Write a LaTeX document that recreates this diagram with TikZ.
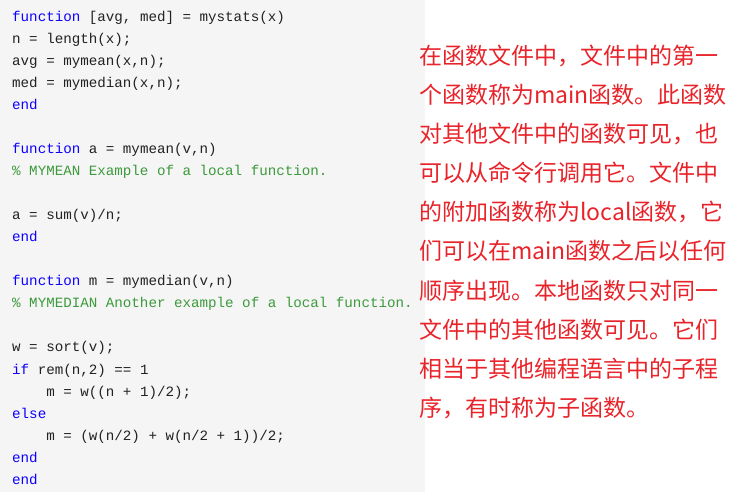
\documentclass[tikz,border=0pt]{standalone}
\usepackage{fontspec}
\setmonofont{Liberation Mono}
\newfontfamily\cjk{Noto Sans CJK SC}
\definecolor{kw}{HTML}{0E00FF}
\definecolor{cm}{HTML}{3C9A3C}
\definecolor{tx}{HTML}{222222}
\definecolor{rd}{HTML}{E8232A}
\definecolor{bg}{HTML}{F5F5F5}
\newcommand{\kw}[1]{\textcolor{kw}{#1}}
\newcommand{\cm}[1]{\textcolor{cm}{#1}}
\begin{document}
\begin{tikzpicture}[x=1pt,y=-1pt,
  code/.style={anchor=base west,inner sep=0pt,text=tx,font=\ttfamily\fontsize{14.2}{16}\selectfont},
  note/.style={anchor=base west,inner sep=0pt,text=rd,font=\cjk\fontsize{23}{28}\selectfont}]
\useasboundingbox (0,0) rectangle (740,492);
\fill[bg] (0,0) rectangle (425,492);
\foreach \y/\t [count=\i] in {
 17/{\kw{function} [avg, med] = mystats(x)},
 39/{n = length(x);},
 61/{avg = mymean(x,n);},
 83/{med = mymedian(x,n);},
 105/{\kw{end}},
 149/{\kw{function} a = mymean(v,n)},
 171/{\cm{\% MYMEAN Example of a local function.}},
 215/{a = sum(v)/n;},
 237/{\kw{end}},
 281/{\kw{function} m = mymedian(v,n)},
 303/{\cm{\% MYMEDIAN Another example of a local function.}},
 347/{w = sort(v);},
 369/{\kw{if} rem(n,2) == 1},
 391/{\ \ \ \ m = w((n + 1)/2);},
 413/{\kw{else}},
 435/{\ \ \ \ m = (w(n/2) + w(n/2 + 1))/2;},
 457/{\kw{end}},
 479/{\kw{end}}}
 \node[code] (c\i) at (12,\y+5) {\t};
\foreach \y/\t [count=\i] in {
 57/{在函数文件中，文件中的第一},
 96/{个函数称为main函数。此函数},
 135/{对其他文件中的函数可见，也},
 174/{可以从命令行调用它。文件中},
 213/{的附加函数称为local函数，它},
 252/{们可以在main函数之后以任何},
 291/{顺序出现。本地函数只对同一},
 330/{文件中的其他函数可见。它们},
 369/{相当于其他编程语言中的子程},
 408/{序，有时称为子函数。}}
 \node[note] (n\i) at (419,\y+8) {\t};
\end{tikzpicture}
\end{document}
